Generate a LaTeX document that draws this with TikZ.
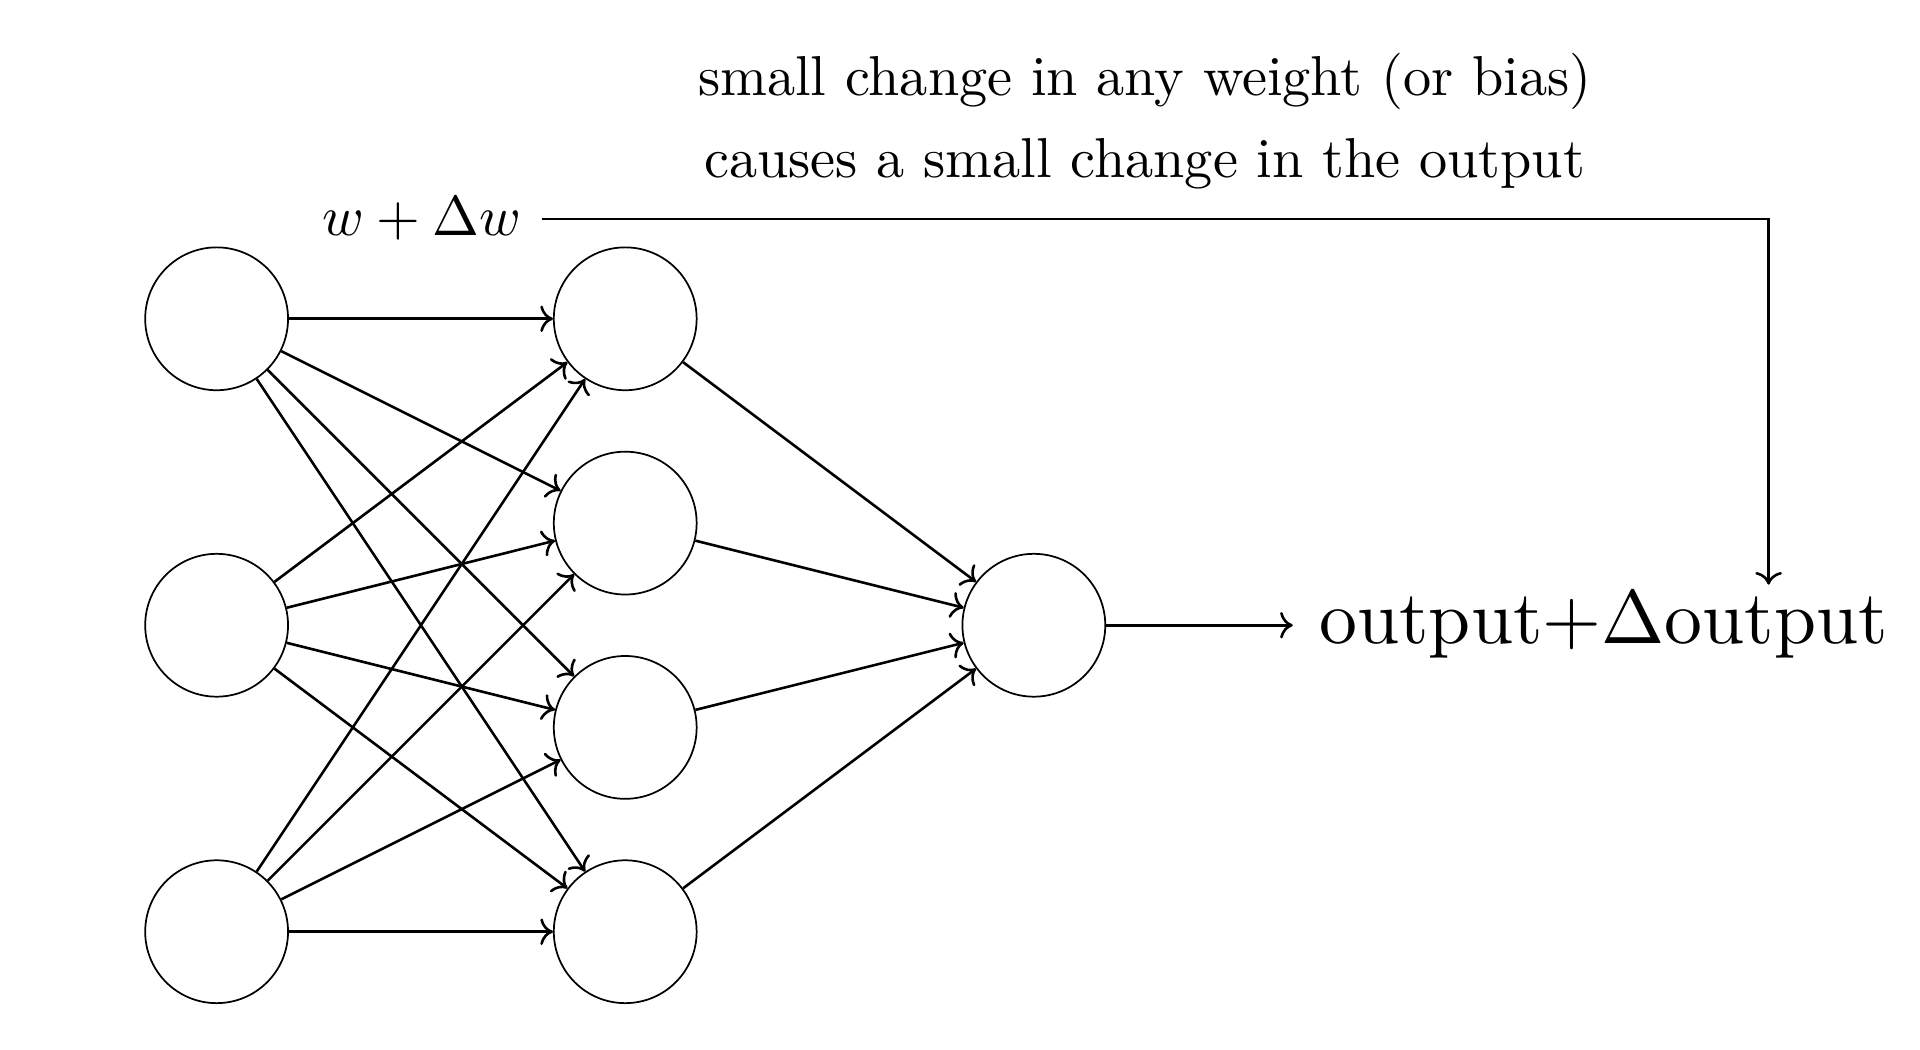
\documentclass[tikz,border=0pt]{standalone}
\usetikzlibrary{arrows.meta}
\begin{document}
\begin{tikzpicture}[x=0.01cm,y=-0.01cm,
  neuron/.style={circle,draw,minimum size=1.16cm,inner sep=0pt},
  conn/.style={->,semithick},
  lbl/.style={scale=1.3}]
\useasboundingbox (0,0) rectangle (1560,853);
\foreach \i/\y in {1/259,2/508,3/757} \node[neuron] (i\i) at (176,\y) {};
\foreach \i/\y in {1/259,2/425,3/591,4/757} \node[neuron] (h\i) at (508,\y) {};
\node[neuron] (o) at (840,508) {};
\foreach \i in {1,2,3} \foreach \j in {1,2,3,4} \draw[conn] (i\i) -- (h\j);
\foreach \j in {1,2,3,4} \draw[conn] (h\j) -- (o);
\node[scale=1.75] (out) at (1303,508) {output+$\Delta$output};
\draw[conn] (o) -- (out);
\node[lbl,anchor=east] (w) at (440,178) {$w+\Delta w$};
\coordinate (corner) at (1437,178);
\coordinate (tip) at (1437,475);
\draw[conn] (w) -- (corner) -- (tip);
\node[lbl] (t1) at (930,66) {small change in any weight (or bias)};
\node[lbl] (t2) at (930,133) {causes a small change in the output};
\end{tikzpicture}
\end{document}
